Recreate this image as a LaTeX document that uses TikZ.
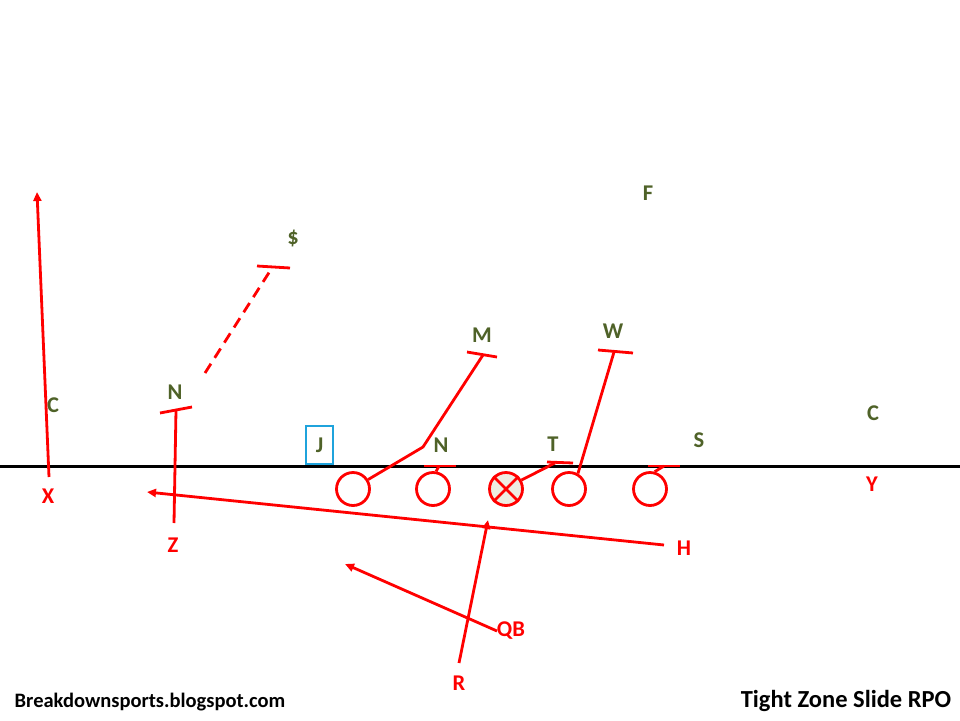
\documentclass[tikz,border=0pt]{standalone}
\usepackage{fontspec}
\setmainfont{Carlito}
\usetikzlibrary{arrows.meta}
\definecolor{playred}{HTML}{FF0000}
\definecolor{defgreen}{HTML}{4F6228}
\definecolor{boxblue}{HTML}{1FA3DC}
\definecolor{ballgray}{HTML}{EEECE1}

\begin{document}
\begin{tikzpicture}[x=1pt,y=-1pt]
        \tikzset{route/.style={draw=playred,line width=2.8pt},
            routearrow/.style={route,-{Triangle[length=9pt,width=8pt]}},
            lineman/.style={draw=playred,line width=2.8pt,circle,minimum size=33pt,inner sep=0pt},
            deflabel/.style={text=defgreen,font=\fontsize{22.5}{26}\selectfont\bfseries,inner sep=0pt},
            offlabel/.style={text=playred,font=\fontsize{22.5}{26}\selectfont\bfseries,inner sep=0pt},
            caption/.style={text=black,font=\fontsize{20.5}{24}\selectfont\bfseries,inner sep=0pt}}
        \useasboundingbox[fill=white] (0,0) rectangle (960,720);
        \draw[line width=3pt] (0,466) coordinate (los1) -- (960,466) coordinate (los2);
        \node[lineman] (lt) at (353,489) {};
        \node[lineman] (lg) at (433,489) {};
        \node[lineman,fill=ballgray] (cn) at (506,489) {};
        \draw[route] (cn.45) -- (cn.225) (cn.135) -- (cn.315);
        \node[lineman] (rg) at (569,489) {};
        \node[lineman] (rt) at (650,489) {};
        \node[draw=boxblue,line width=1.4pt,minimum width=27pt,minimum height=38pt,inner sep=0pt] (jbox) at (319.5,445) {};
        \node[deflabel] (j) at (jbox) {J};
        \node[deflabel] (dollar) at (293,238) {\$};
        \node[deflabel] (m) at (482,335) {M};
        \node[deflabel] (w) at (613,331) {W};
        \node[deflabel] (f) at (648,193) {F};
        \node[deflabel] (n1) at (175,392) {N};
        \node[deflabel] (c1) at (53,405) {C};
        \node[deflabel] (n2) at (441,445) {N};
        \node[deflabel] (t) at (553,444) {T};
        \node[deflabel] (s) at (699,440) {S};
        \node[deflabel] (c2) at (873,413) {C};
        \node[offlabel] (x) at (48,496) {X};
        \node[offlabel] (z) at (173,545) {Z};
        \node[offlabel] (h) at (684,548) {H};
        \node[offlabel] (qb) at (511,631) {QB};
        \node[offlabel] (r) at (459,683) {R};
        \node[offlabel] (y) at (872,484) {Y};
        \coordinate (ltk) at (423,447);
        \coordinate (ltm) at (483,355);
        \coordinate (ltbarL) at (467,352);
        \coordinate (ltbarR) at (497,357);
        \draw[route] (lt.32) -- (ltk) -- (ltm);
        \draw[route] (ltbarL) -- (ltbarR);
        \coordinate (lgm) at (439,466);
        \coordinate (lgbarL) at (424,466);
        \coordinate (lgbarR) at (456,466);
        \draw[route] (lg.80) -- (lgm);
        \draw[route] (lgbarL) -- (lgbarR);
        \coordinate (cnm) at (555,463);
        \coordinate (cnbarL) at (547,462);
        \coordinate (cnbarR) at (573,463);
        \draw[route] (cn.30) -- (cnm);
        \draw[route] (cnbarL) -- (cnbarR);
        \coordinate (rgm) at (614,352);
        \coordinate (rgbarL) at (598,350);
        \coordinate (rgbarR) at (633,353);
        \draw[route] (rg.60) -- (rgm);
        \draw[route] (rgbarL) -- (rgbarR);
        \coordinate (rtm) at (664,466);
        \coordinate (rtbarL) at (648,466);
        \coordinate (rtbarR) at (680,466);
        \draw[route] (rt.75) -- (rtm);
        \draw[route] (rtbarL) -- (rtbarR);
        \coordinate (xs) at (49,477);
        \coordinate (xe) at (37,192);
        \draw[routearrow] (xs) -- (xe);
        \coordinate (zs) at (174,523);
        \coordinate (ze) at (176,410);
        \coordinate (zbarL) at (160,413);
        \coordinate (zbarR) at (192,407);
        \draw[route] (zs) -- (ze);
        \draw[route] (zbarL) -- (zbarR);
        \coordinate (ds) at (205,373);
        \coordinate (de) at (270,271);
        \coordinate (dbarL) at (257,266);
        \coordinate (dbarR) at (290,268);
        \draw[route,dash pattern=on 11pt off 7pt] (ds) -- (de);
        \draw[route] (dbarL) -- (dbarR);
        \coordinate (hs) at (664,545);
        \coordinate (he) at (147,492);
        \draw[routearrow] (hs) -- (he);
        \coordinate (rs) at (459,663);
        \coordinate (re) at (488,520);
        \draw[routearrow] (rs) -- (re);
        \coordinate (qs) at (497,631);
        \coordinate (qe) at (345,564);
        \draw[routearrow] (qs) -- (qe);
        \node[caption] (site) at (150,702) {Breakdownsports.blogspot.com};
        \node[caption,font=\fontsize{24.5}{28}\selectfont\bfseries] (title) at (846,701) {Tight Zone Slide RPO};
    \end{tikzpicture}
\end{document}
